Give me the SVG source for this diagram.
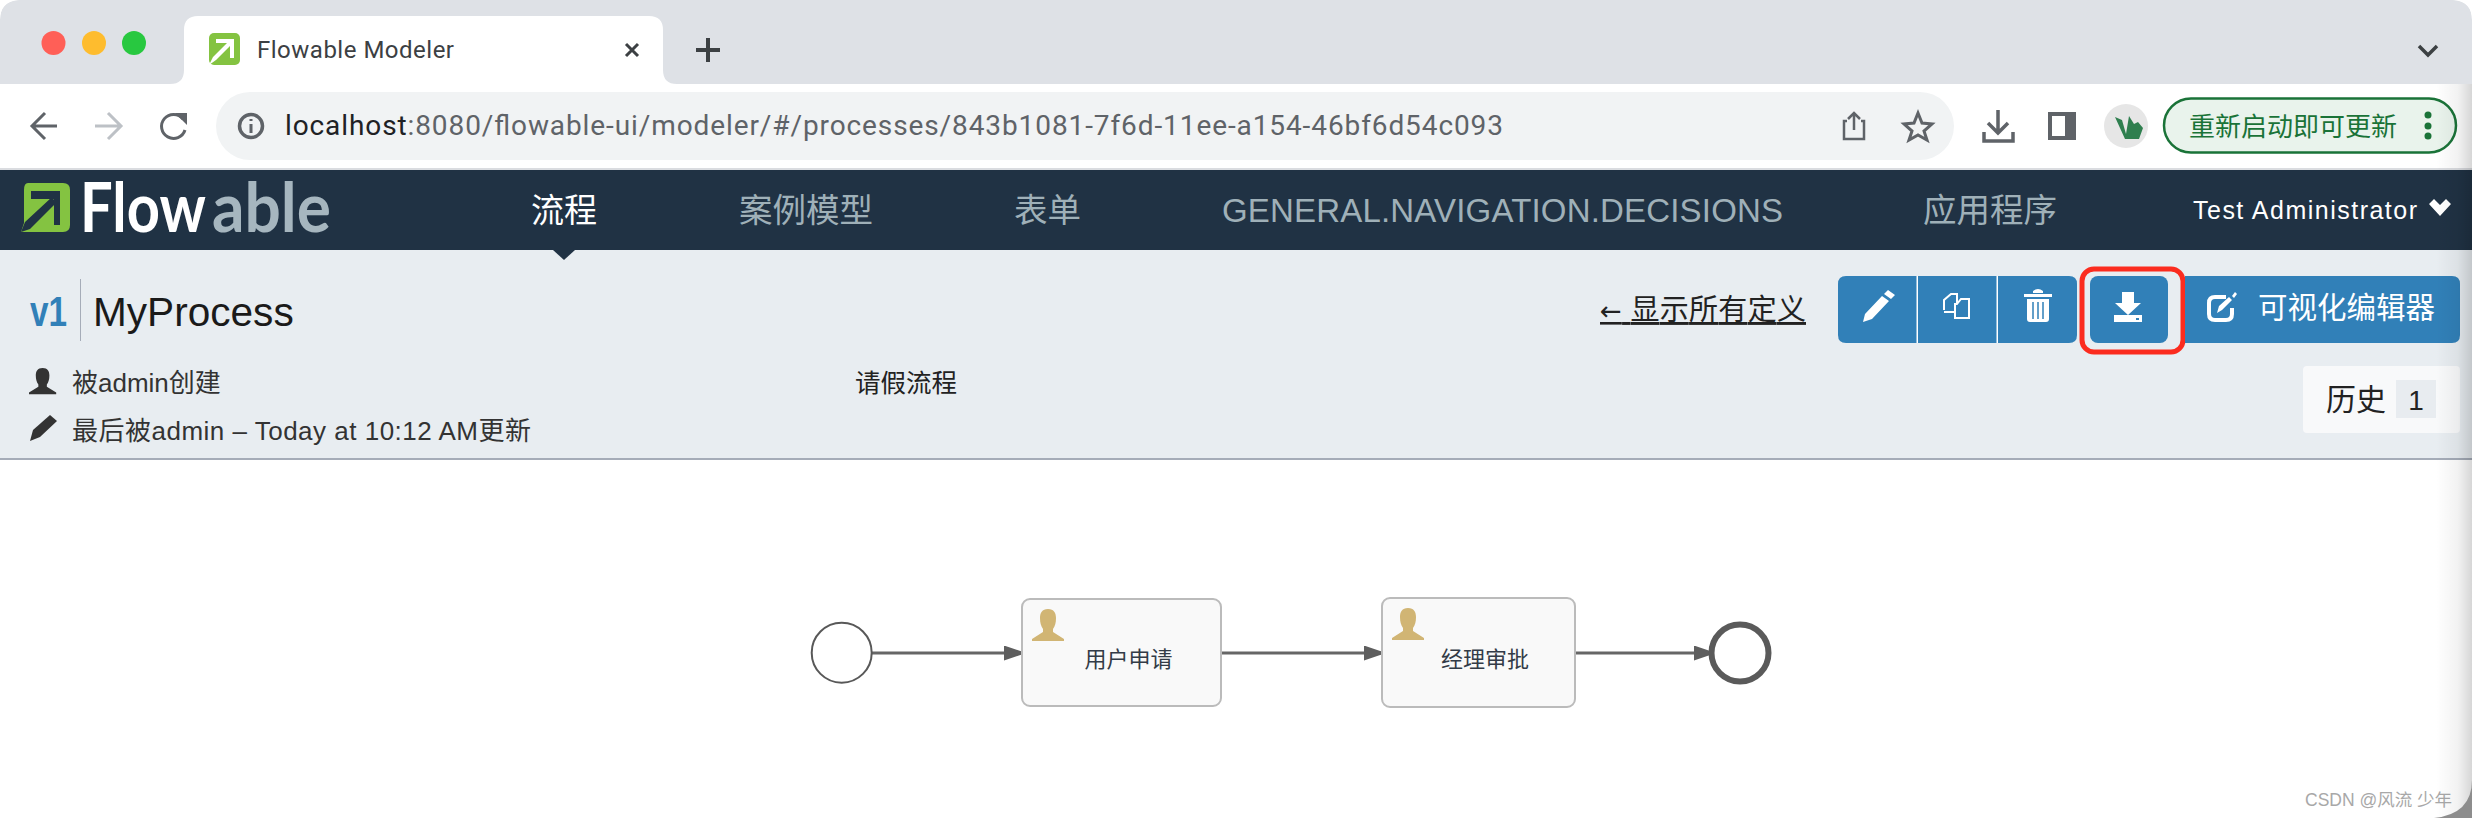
<svg xmlns="http://www.w3.org/2000/svg" width="2472" height="818" viewBox="0 0 2472 818">
<style>
text{font-family:"Liberation Sans","Noto Sans CJK SC",sans-serif}
.sys{font-family:Roboto,"Noto Sans CJK SC",sans-serif}
.nav{font-size:33.500px;fill:#9fb0b8}
.meta{font-size:26px;fill:#333}
.btn{fill:#3180b8}
.task{fill:#f9f9f9;stroke:#bbb;stroke-width:2}
.tl{font-size:22px;fill:#333b47;text-anchor:middle}
.ico{fill:#fff}
.tool{fill:none;stroke:#5f6368;stroke-width:3.500}
.person{fill:#d1b574}
.flow{fill:none;stroke:#666;stroke-width:2.800}
.brand{font-family:Lato,"Liberation Sans",sans-serif;font-size:68px;font-weight:700}
</style>
<defs>
<marker id="arrow" markerUnits="userSpaceOnUse" markerWidth="22" markerHeight="16" refX="22" refY="7.500" orient="auto"><path d="M0 0L22 7.500L0 15Z" fill="#5e5e5e"/></marker>
<linearGradient id="edge" x1="0" x2="1" y1="0" y2="0"><stop offset="0" stop-color="#000" stop-opacity="0"/><stop offset="0.6" stop-color="#000" stop-opacity=".05"/><stop offset="1" stop-color="#000" stop-opacity=".16"/></linearGradient>
<path id="bust" d="M16 0C10 0 8 4 8 9C8 14 9 17 11 20L11 23L0 30L0 32L32 32L32 30L21 23L21 20C23 17 24 14 24 9C24 4 22 0 16 0Z"/>
<path id="logomark" d="M7 0H42Q49 0 49 7V42Q49 49 42 49H8L0 49L3 40V7Q3 0 7 0Z"/>
</defs>
<rect width="2472" height="818" fill="#fff"/>
<g id="browser-chrome">
<path d="M0 84V20Q0 0 20 0H2452Q2472 0 2472 20V84Z" fill="#dee1e6"/>
<path d="M170 84Q184 84 184 70V30Q184 16 198 16H649Q663 16 663 30V70Q663 84 677 84Z" fill="#fff"/>
<circle cx="53.500" cy="43" r="12" fill="#ff5f57"/><circle cx="94" cy="43" r="12" fill="#febc2e"/><circle cx="134" cy="43" r="12" fill="#28c840"/>
<rect x="209" y="33" width="31" height="32" rx="5" fill="#84c341"/>
<path d="M216 39H234V58H230V46L216 60L209 65L213 57L227 43H216Z" fill="#fff"/>
<text class="sys" x="257" y="58" font-size="24" fill="#3c4043" textLength="197">Flowable Modeler</text>
<path d="M626 44L638 56M638 44L626 56" stroke="#3c4043" stroke-width="3" fill="none"/>
<path d="M708 38V62M696 50H720" stroke="#3c4043" stroke-width="4" fill="none"/>
<path d="M2419 46L2428 55L2437 46" stroke="#3c4043" stroke-width="3.500" fill="none"/>
<rect y="84" width="2472" height="84" fill="#fff"/><rect y="168" width="2472" height="2" fill="#dadce0"/>
<path d="M45 113L32 126L45 139M32 126H57" class="tool" style="stroke-width:3"/>
<path d="M108 113L121 126L108 139M95 126H120" class="tool" style="stroke:#bdc1c6;stroke-width:3"/>
<path d="M183 119A12 12 0 1 0 185 130" class="tool" style="stroke-width:3"/><path d="M175 113L187 113L187 125Z" fill="#5f6368"/>
<rect x="216" y="92" width="1738" height="68" rx="34" fill="#f1f3f4"/>
<circle cx="251" cy="126" r="11.500" class="tool"/><path d="M251 124V133M251 119V121" class="tool" style="stroke-width:3"/>
<text class="sys" x="285" y="135" font-size="28" fill="#5f6368" textLength="1218"><tspan fill="#202124">localhost</tspan>:8080/flowable-ui/modeler/#/processes/843b1081-7f6d-11ee-a154-46bf6d54c093</text>
<path d="M1847 121H1844V139H1864V121H1861M1854 113V130M1848 119L1854 113L1860 119" class="tool" style="stroke-width:2.500"/>
<path d="M1918 113L1922 123L1932 124L1924 131L1927 140L1918 135L1909 140L1912 131L1904 124L1914 123Z" class="tool" style="stroke-width:3"/>
<path d="M1998 110V132M1988 123L1998 133L2008 123M1984 132V141H2013V132" class="tool" style="stroke-width:3.500"/>
<rect x="2048" y="112" width="28" height="28" fill="#5f6368"/><rect x="2052" y="116" width="13" height="20" fill="#fff"/>
<ellipse cx="2126" cy="126" rx="22" ry="22" fill="#e6e6e6"/>
<path d="M2115 117L2122 120L2126 134L2129 116L2134 124L2138 122L2143 128L2139 139H2125Z" fill="#2f7f4f"/>
<rect x="2164" y="98.500" width="292" height="54" rx="27" fill="#e9f3ec" stroke="#1a7338" stroke-width="2.500"/>
<text x="2189" y="136" font-size="26" fill="#1a7338">重新启动即可更新</text>
<circle cx="2428" cy="115" r="3.500" fill="#1a7338"/><circle cx="2428" cy="126" r="3.500" fill="#1a7338"/><circle cx="2428" cy="136" r="3.500" fill="#1a7338"/>
</g>
<g id="nav-bar">
<rect y="170" width="2472" height="80" fill="#203244"/>
<g id="logo">
<use href="#logomark" x="21" y="183" fill="#84c341"/>
<path d="M31 191H60V225H54V199H31ZM52 197L56 203L30 229L21 232L25 222Z" fill="#203244"/>
<text class="brand" transform="translate(80 232) scale(.85 1)" fill="#fff" textLength="148" lengthAdjust="spacingAndGlyphs">Flow</text>
<text class="brand" transform="translate(212 232) scale(.85 1)" fill="#a6b6bf" textLength="140" lengthAdjust="spacingAndGlyphs">able</text>
</g>
<text x="531" y="222" font-size="33" fill="#fff">流程</text>
<text class="nav" x="739" y="222">案例模型</text>
<text class="nav" x="1014" y="222">表单</text>
<text class="nav" x="1222" y="222" textLength="561" style="font-size:33px">GENERAL.NAVIGATION.DECISIONS</text>
<text class="nav" x="1923" y="222">应用程序</text>
<text x="2193" y="219" font-size="25" fill="#fff" textLength="224">Test Administrator</text>
<path d="M2429 204L2434 199L2440 205L2446 199L2451 204L2440 216Z" fill="#fff"/>
</g>
<g id="details">
<rect y="250" width="2472" height="208" fill="#e8edf1"/>
<path d="M553 250H575L564 260Z" fill="#203244"/>
<rect y="458" width="2472" height="2" fill="#a5acb8"/>
<text x="30" y="326" font-size="42" font-weight="700" fill="#3180b8" textLength="37" lengthAdjust="spacingAndGlyphs">v1</text>
<rect x="80" y="279" width="1" height="62" fill="#a5acb8"/>
<text x="93" y="326" font-size="40.600" fill="#1a1a1a">MyProcess</text>
<use href="#bust" transform="translate(29 368) scale(.85 .82)" fill="#333"/>
<text class="meta" x="72" y="392">被admin创建</text>
<text class="meta" x="855" y="392" style="font-size:25.500px;fill:#222">请假流程</text>
<path d="M30 441L33 430L50 415L57 421L40 437Z" fill="#333"/>
<text class="meta" x="72" y="440" textLength="459">最后被admin – Today at 10:12 AM更新</text>
<text x="1600" y="320" font-size="29" fill="#222" textLength="206" text-decoration="underline"><tspan style="font-family:'DejaVu Sans',sans-serif" font-size="26">←</tspan> 显示所有定义</text>
</g>
<g id="toolbar-buttons">
<path class="btn" d="M1846 276H2069Q2077 276 2077 284V335Q2077 343 2069 343H1846Q1838 343 1838 335V284Q1838 276 1846 276Z"/>
<rect x="1916.500" y="276" width="1.500" height="67" fill="#fff"/><rect x="1996.500" y="276" width="1.500" height="67" fill="#fff"/>
<path class="ico" d="M1863 322L1865 314L1882 296L1889 301L1872 319ZM1884 294L1888 290L1895 295L1891 299Z"/>
<path d="M1944 310V300L1951 294H1957V303M1957 304L1961 299H1969V318H1955V304ZM1955 312H1944" fill="none" stroke="#fff" stroke-width="2"/>
<path class="ico" d="M2024 294H2052V297H2024ZM2033 291Q2038 287 2043 291V293H2033ZM2027 299H2049V319Q2049 322 2046 322H2030Q2027 322 2027 319Z"/>
<path d="M2033 302V319M2038 302V319M2043 302V319" stroke="#3180b8" stroke-width="1.500"/>
<rect class="btn" x="2090" y="276" width="78" height="67" rx="8"/>
<path class="ico" d="M2122 292H2134V303H2141L2128 315L2115 303H2122Z"/>
<path class="ico" d="M2114 315H2142V322H2114Z"/><rect x="2136" y="318" width="3" height="2" fill="#3180b8"/>
<rect x="2082" y="269" width="101" height="83" rx="12" fill="none" stroke="#fb2c1f" stroke-width="5"/>
<path class="btn" d="M2185 276H2452Q2460 276 2460 284V335Q2460 343 2452 343H2185Z"/>
<path d="M2226 297H2215Q2209 297 2209 303V314Q2209 320 2215 320H2226Q2232 320 2232 314V308" fill="none" stroke="#fff" stroke-width="4"/>
<path d="M2217 313L2219 306L2229 297L2232 300L2222 310ZM2232 296L2235 292L2237 294L2234 298Z" fill="#fff"/>
<text x="2258" y="318" font-size="29.500" fill="#fff">可视化编辑器</text>
</g>
<g id="history">
<rect x="2303" y="366" width="157" height="67" rx="4" fill="#f8f9fa"/>
<text x="2326" y="410" font-size="30" fill="#222">历史</text>
<rect x="2396" y="380" width="40" height="38" fill="#e8ecf0"/>
<text x="2416" y="410" font-size="28" fill="#222" text-anchor="middle">1</text>
</g>
<g id="connectors">
<path class="flow" d="M872 653H1026" marker-end="url(#arrow)"/>
<path class="flow" d="M1222 653H1386" marker-end="url(#arrow)"/>
<path class="flow" d="M1576 653H1716" marker-end="url(#arrow)"/>
</g>
<g id="start-event"><circle cx="841.700" cy="652.700" r="30" fill="#fff" stroke="#585858" stroke-width="2"/></g>
<g id="task-user-apply">
<rect class="task" x="1022" y="599" width="199" height="107" rx="8"/>
<use href="#bust" class="person" x="1032" y="609"/>
<text class="tl" x="1128.500" y="667">用户申请</text>
</g>
<g id="task-manager-approve">
<rect class="task" x="1382" y="598" width="193" height="109" rx="8"/>
<use href="#bust" class="person" x="1392" y="608"/>
<text class="tl" x="1485" y="667">经理审批</text>
</g>
<g id="end-event"><circle cx="1740" cy="653" r="28.500" fill="#fff" stroke="#5a5a5a" stroke-width="6"/></g>
<text x="2305" y="806" font-size="17.500" fill="#a8a8a8" id="watermark">CSDN @风流 少年</text>
<g id="window-edge">
<rect x="2436" y="84" width="36" height="734" fill="url(#edge)"/>
<path d="M2472 780V818H2434Q2472 814 2472 780Z" fill="#8d8d8d"/>
<path d="M0 0H18Q0 2 0 20Z" fill="#fff"/>
<path d="M2472 0H2454Q2472 2 2472 20Z" fill="#fff"/>
</g>
</svg>
